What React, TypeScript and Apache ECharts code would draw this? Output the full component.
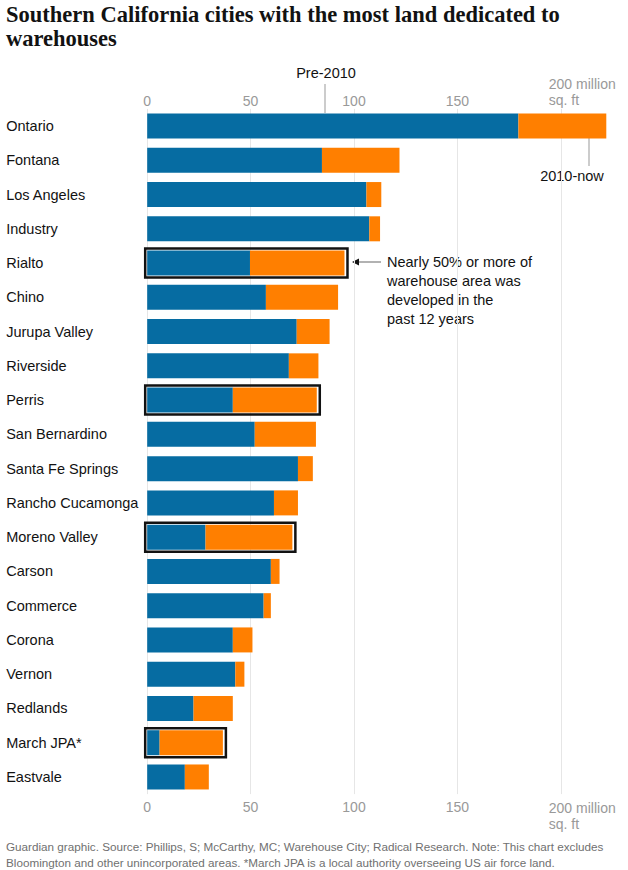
import React, { useEffect, useRef } from "react";
import * as echarts from "echarts";

// Warehouse land area by city, in millions of sq ft
const cities = [
  "Ontario", "Fontana", "Los Angeles", "Industry", "Rialto", "Chino",
  "Jurupa Valley", "Riverside", "Perris", "San Bernardino", "Santa Fe Springs",
  "Rancho Cucamonga", "Moreno Valley", "Carson", "Commerce", "Corona",
  "Vernon", "Redlands", "March JPA*", "Eastvale",
];
const pre2010 = [
  179.5, 84.5, 106, 107.4, 49.7, 57.4, 72.3, 68.5, 41.4, 52, 72.9, 61.3,
  28.2, 59.8, 56.3, 41.4, 42.6, 22.4, 6, 18.2,
];
const since2010 = [
  42.5, 37.5, 7.2, 5.2, 45.7, 34.9, 15.9, 14.3, 40.6, 29.6, 7.2, 11.6,
  42, 4.2, 3.5, 9.5, 4.4, 19, 30.6, 11.6,
];
// Cities where roughly half or more of the area was built since 2010
const highlighted = ["Rialto", "Perris", "Moreno Valley", "March JPA*"];
const axisMax = 200;
const tickStep = 50;

const BLUE = "#066ca2";
const ORANGE = "#ff7f00";
const INK = "#121212";
const GREY = "#999999";
const SANS = "'Liberation Sans', Arial, sans-serif";
const SERIF = "'Liberation Serif', 'Times New Roman', serif";

const tickLabel = (v: number) =>
  v === axisMax ? `{u|${v} million}\n{u|sq. ft}` : String(v);

export default function App() {
  const ref = useRef<HTMLDivElement>(null);

  useEffect(() => {
    if (!ref.current) return;
    const chart = echarts.init(ref.current, null, { renderer: "svg" });

    const boxData = highlighted.map((c) => {
      const i = cities.indexOf(c);
      return [pre2010[i] + since2010[i], i];
    });

    const labelStyle = {
      color: GREY,
      fontSize: 14,
      fontFamily: SANS,
      formatter: tickLabel,
      rich: {
        u: { width: 24, align: "left", color: GREY, fontSize: 14, fontFamily: SANS, lineHeight: 16 },
      },
    };

    chart.setOption({
      animation: false,
      backgroundColor: "#ffffff",
      grid: { left: 147.2, right: 67.2, top: 108.9, bottom: 75.9 },
      xAxis: [
        {
          type: "value",
          position: "top",
          min: 0,
          max: axisMax,
          interval: tickStep,
          axisLine: { show: false },
          axisTick: { show: false },
          splitLine: { show: true, lineStyle: { color: "#e6e6e6", width: 1 } },
          axisLabel: { ...labelStyle, margin: 1 },
        },
        {
          type: "value",
          position: "bottom",
          min: 0,
          max: axisMax,
          interval: tickStep,
          axisLine: { show: false },
          axisTick: { show: false },
          splitLine: { show: false },
          axisLabel: { ...labelStyle, margin: 6 },
        },
      ],
      yAxis: {
        type: "category",
        data: cities,
        inverse: true,
        axisLine: { show: false },
        axisTick: { show: false },
        axisLabel: {
          align: "left",
          margin: 141,
          color: INK,
          fontSize: 14.5,
          fontFamily: SANS,
        },
      },
      series: [
        {
          name: "Pre-2010",
          type: "bar",
          stack: "area",
          data: pre2010,
          barWidth: 25,
          clip: false,
          itemStyle: { color: BLUE },
        },
        {
          name: "2010-now",
          type: "bar",
          stack: "area",
          data: since2010,
          barWidth: 25,
          clip: false,
          itemStyle: { color: ORANGE },
        },
        {
          name: "highlight",
          type: "custom",
          data: boxData,
          encode: { x: 0, y: 1 },
          clip: false,
          z: 5,
          renderItem: (_params: any, api: any) => {
            const idx = api.value(1);
            const start = api.coord([0, idx]);
            const end = api.coord([api.value(0), idx]);
            return {
              type: "rect",
              shape: {
                x: start[0] - 2,
                y: start[1] - 14.5,
                width: end[0] - start[0] + 5,
                height: 29,
              },
              style: { fill: "none", stroke: INK, lineWidth: 2.5 },
            };
          },
        },
      ],
      graphic: [
        {
          type: "text",
          left: 6,
          top: 2,
          style: {
            text: "Southern California cities with the most land dedicated to\nwarehouses",
            font: `bold 22.5px ${SERIF}`,
            fill: INK,
            lineHeight: 24,
          },
        },
        {
          type: "text",
          x: 326,
          y: 73,
          style: {
            text: "Pre-2010",
            font: `14.5px ${SANS}`,
            fill: INK,
            align: "center",
            verticalAlign: "middle",
          },
        },
        {
          type: "line",
          shape: { x1: 325, y1: 84, x2: 325, y2: 113 },
          style: { stroke: GREY, lineWidth: 1 },
        },
        {
          type: "line",
          shape: { x1: 589, y1: 138, x2: 589, y2: 166 },
          style: { stroke: GREY, lineWidth: 1 },
        },
        {
          type: "text",
          x: 572,
          y: 176,
          style: {
            text: "2010-now",
            font: `14.5px ${SANS}`,
            fill: INK,
            align: "center",
            verticalAlign: "middle",
          },
        },
        {
          type: "line",
          shape: { x1: 358, y1: 262, x2: 381, y2: 262 },
          style: { stroke: GREY, lineWidth: 1.5 },
        },
        {
          type: "polygon",
          shape: { points: [[352, 262], [359, 258.5], [359, 265.5]] },
          style: { fill: INK },
        },
        {
          type: "text",
          x: 387,
          y: 252.5,
          style: {
            text: "Nearly 50% or more of\nwarehouse area was\ndeveloped in the\npast 12 years",
            font: `14.5px ${SANS}`,
            fill: INK,
            lineHeight: 19,
            verticalAlign: "top",
          },
        },
        {
          type: "text",
          x: 6,
          y: 838.5,
          style: {
            text:
              "Guardian graphic. Source: Phillips, S; McCarthy, MC; Warehouse City; Radical Research. Note: This chart excludes\nBloomington and other unincorporated areas. *March JPA is a local authority overseeing US air force land.",
            font: `11.7px ${SANS}`,
            fill: "#707070",
            lineHeight: 16,
            verticalAlign: "top",
          },
        },
      ],
    });

    return () => chart.dispose();
  }, []);

  return (
    <div
      ref={ref}
      style={{ position: "fixed", left: 0, top: 0, width: 628, height: 870, background: "#fff" }}
    />
  );
}
